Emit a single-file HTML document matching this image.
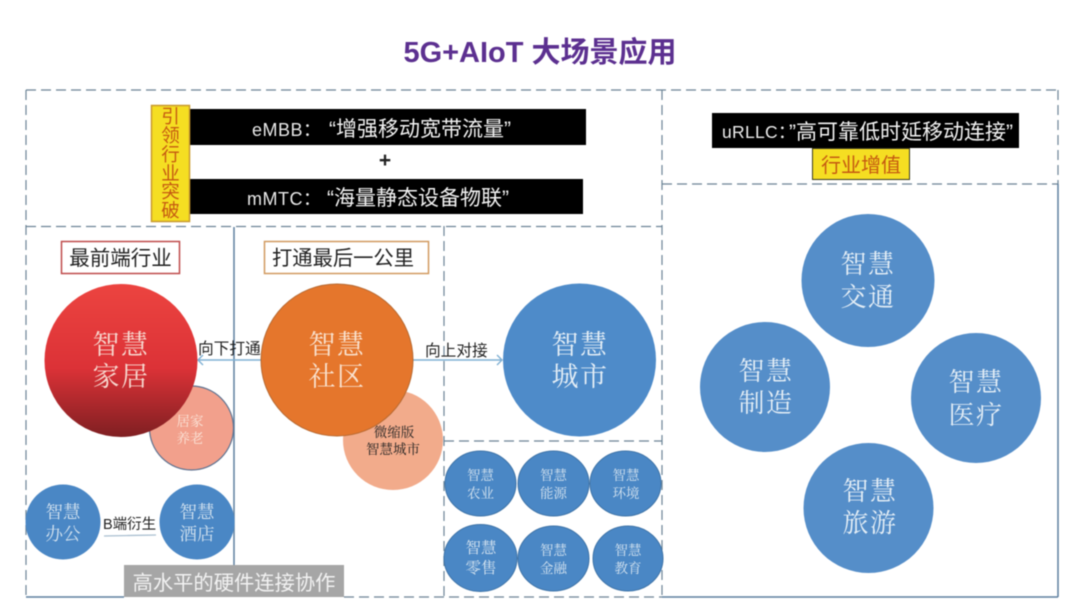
<!DOCTYPE html>
<html lang="zh">
<head>
<meta charset="utf-8">
<style>
html,body{margin:0;padding:0;background:#fff;width:1080px;height:608px;overflow:hidden}
svg{display:block;filter:blur(0.4px)}
.sans{font-family:"Liberation Sans","Noto Sans CJK SC",sans-serif}
.ser{font-family:"Liberation Serif","Noto Serif CJK SC",serif;text-anchor:middle}
.c{text-anchor:middle}
.d{fill:none;stroke:#6c8496;stroke-width:1.2;stroke-dasharray:10 5}
.s{fill:none;stroke:#5d7f9f;stroke-width:1.5}
</style>
</head>
<body>
<svg width="1080" height="608" viewBox="0 0 1080 608" xmlns="http://www.w3.org/2000/svg">
<defs>
<linearGradient id="red" x1="0" y1="0" x2="0" y2="1">
<stop offset="0" stop-color="#ec4440"/><stop offset="0.55" stop-color="#dc3237"/><stop offset="1" stop-color="#7f1f22"/>
</linearGradient>
</defs>
<rect width="1080" height="608" fill="#fff"/>

<text class="sans c" x="540" y="62" font-size="29" font-weight="700" fill="#5c3090">5G+AIoT 大场景应用</text>

<!-- frames -->
<path class="d" d="M26 90H1058M26 90V597M1058 90V184M26 226.500H662M662 90V597M662 184H1058"/>
<path class="d" stroke-dasharray="5 3" d="M444 226V597M444 441H662"/>
<path class="d" d="M344 597H662"/>
<path class="s" d="M26 597H124M234 227V565M662 597H1058M1058 184V597"/>

<!-- left top -->
<rect x="190" y="109" width="396" height="36" fill="#000"/>
<rect x="190" y="179" width="393" height="35" fill="#000"/>
<rect x="151.500" y="105.500" width="38" height="116" fill="#f5de22" stroke="#c99a2e" stroke-width="1.500"/>
<g class="sans c" font-size="18.500" fill="#c55a11">
<text x="170.500" y="123">引</text><text x="170.500" y="142">领</text><text x="170.500" y="161">行</text>
<text x="170.500" y="180">业</text><text x="170.500" y="198">突</text><text x="170.500" y="217">破</text>
</g>
<text class="sans" x="252" y="136" font-size="18" fill="#e8e8e8" letter-spacing="0.5">eMBB：</text>
<text class="sans" x="329" y="136" font-size="21" fill="#f2f2f2">“增强移动宽带流量”</text>
<text class="sans c" x="385" y="167" font-size="21" font-weight="700" fill="#222">+</text>
<text class="sans" x="247" y="205" font-size="18" fill="#e8e8e8" letter-spacing="0.5">mMTC：</text>
<text class="sans" x="327" y="205" font-size="21" fill="#f2f2f2">“海量静态设备物联”</text>

<!-- right top -->
<rect x="712" y="113" width="307" height="35" fill="#000"/>
<text class="sans" x="722" y="138" font-size="17.500" fill="#ececec" letter-spacing="0.3">uRLLC：</text>
<text class="sans" x="789" y="139" font-size="21" fill="#f2f2f2">”高可靠低时延移动连接”</text>
<rect x="812.500" y="148.500" width="97" height="31" fill="#f5de22" stroke="#3c3c20" stroke-width="1"/>
<text class="sans c" x="861" y="172" font-size="20" fill="#c55a11">行业增值</text>

<!-- tags -->
<rect x="61.500" y="241.500" width="118" height="32" fill="#fff" stroke="#bf4b4b" stroke-width="1.500"/>
<text class="sans c" x="120.500" y="265" font-size="20.500" fill="#222">最前端行业</text>
<rect x="264.500" y="241.500" width="164" height="32" fill="#fff" stroke="#d29a60" stroke-width="1.500"/>
<text class="sans c" x="343" y="265" font-size="20.300" fill="#222">打通最后一公里</text>

<!-- small pink -->
<circle cx="191.500" cy="428" r="42" fill="#f2a08c" stroke="#5f7391" stroke-width="1.200"/>
<text class="ser" x="190" y="426" font-size="13.500" fill="#fbe6da">居家</text>
<text class="ser" x="190" y="443" font-size="13.500" fill="#fbe6da">养老</text>
<circle cx="393" cy="440" r="50" fill="#f2ab8b"/>
<text class="ser" x="394" y="437" font-size="13.500" fill="#222">微缩版</text>
<text class="ser" x="393" y="454" font-size="13.500" fill="#222">智慧城市</text>

<!-- connectors -->
<path d="M198 360H262M203 355L198 360L203 365" fill="none" stroke="#7fb0d4" stroke-width="1.400"/>
<path d="M412 360H502M497 355L502 360L497 365" fill="none" stroke="#7fb0d4" stroke-width="1.400"/>
<line x1="104" y1="536" x2="156" y2="535" stroke="#a9bfd0" stroke-width="1.300"/>
<text class="sans" x="198" y="354" font-size="15.700" fill="#222">向下打通</text>
<text class="sans" x="425" y="356" font-size="15.700" fill="#222">向上对接</text>
<text class="sans" x="103" y="529" font-size="14.500" fill="#222">B端衍生</text>

<!-- big circles -->
<circle cx="121" cy="360.500" r="76.500" fill="url(#red)"/>
<circle cx="337" cy="360" r="76" fill="#e5762c" stroke="#b86a32" stroke-width="1"/>
<circle cx="579.500" cy="360" r="76.500" fill="#4e8bc9"/>
<g class="ser" font-size="27" fill="#f7d8cf">
<text x="121" y="354" letter-spacing="1.500">智慧</text><text x="121" y="386" letter-spacing="1.500">家居</text>
</g>
<g class="ser" font-size="27" fill="#f9e2cf">
<text x="337" y="354" letter-spacing="1.500">智慧</text><text x="337" y="386" letter-spacing="1.500">社区</text>
</g>
<g class="ser" font-size="27" fill="#e4eef6">
<text x="580" y="354" letter-spacing="1.500">智慧</text><text x="580" y="386" letter-spacing="1.500">城市</text>
</g>

<!-- office / hotel -->
<circle cx="63" cy="522" r="37.500" fill="#4a87c5"/>
<circle cx="197" cy="522" r="37.500" fill="#4a87c5"/>
<g class="ser" font-size="17.500" fill="#d6e4f0">
<text x="63" y="518">智慧</text><text x="63" y="540">办公</text>
<text x="197" y="518">智慧</text><text x="197" y="540">酒店</text>
</g>

<!-- six -->
<g fill="#4a87c5" stroke="#3f74a8" stroke-width="1">
<ellipse cx="480.500" cy="483.500" rx="35.500" ry="32.500"/>
<ellipse cx="553.500" cy="483.500" rx="35.500" ry="32.500"/>
<ellipse cx="625.500" cy="483.500" rx="35.500" ry="32.500"/>
<ellipse cx="480.500" cy="558" rx="36.500" ry="33.500"/>
<ellipse cx="553.500" cy="558.500" rx="35.500" ry="32.500"/>
<ellipse cx="628" cy="558.500" rx="35" ry="32.500"/>
</g>
<g class="ser" font-size="13.500" fill="#d6e4f0">
<text x="480.500" y="480">智慧</text><text x="480.500" y="498">农业</text>
<text x="553.500" y="480">智慧</text><text x="553.500" y="498">能源</text>
<text x="626" y="480">智慧</text><text x="626" y="498">环境</text>
<text x="553.500" y="555">智慧</text><text x="553.500" y="573">金融</text>
<text x="628" y="555">智慧</text><text x="628" y="573">教育</text>
</g>
<g class="ser" font-size="15.500" fill="#d6e4f0">
<text x="481" y="553">智慧</text><text x="481" y="573">零售</text>
</g>

<!-- right circles -->
<g fill="#558ec9">
<circle cx="868" cy="280.500" r="66.500"/>
<circle cx="765" cy="387" r="65"/>
<circle cx="976" cy="398" r="65"/>
<circle cx="868.500" cy="508" r="65"/>
</g>
<g class="ser" font-size="26" fill="#e4eef6" letter-spacing="1.500">
<text x="868" y="273">智慧</text><text x="868" y="306">交通</text>
<text x="766" y="380">智慧</text><text x="766" y="412">制造</text>
<text x="976" y="391">智慧</text><text x="976" y="424">医疗</text>
<text x="870" y="500">智慧</text><text x="870" y="532">旅游</text>
</g>

<!-- grey caption -->
<rect x="124" y="565" width="220" height="32" fill="#a6a6a6"/>
<text class="sans c" x="234" y="590" font-size="20.300" fill="#f2f2f2">高水平的硬件连接协作</text>
</svg>
</body>
</html>
